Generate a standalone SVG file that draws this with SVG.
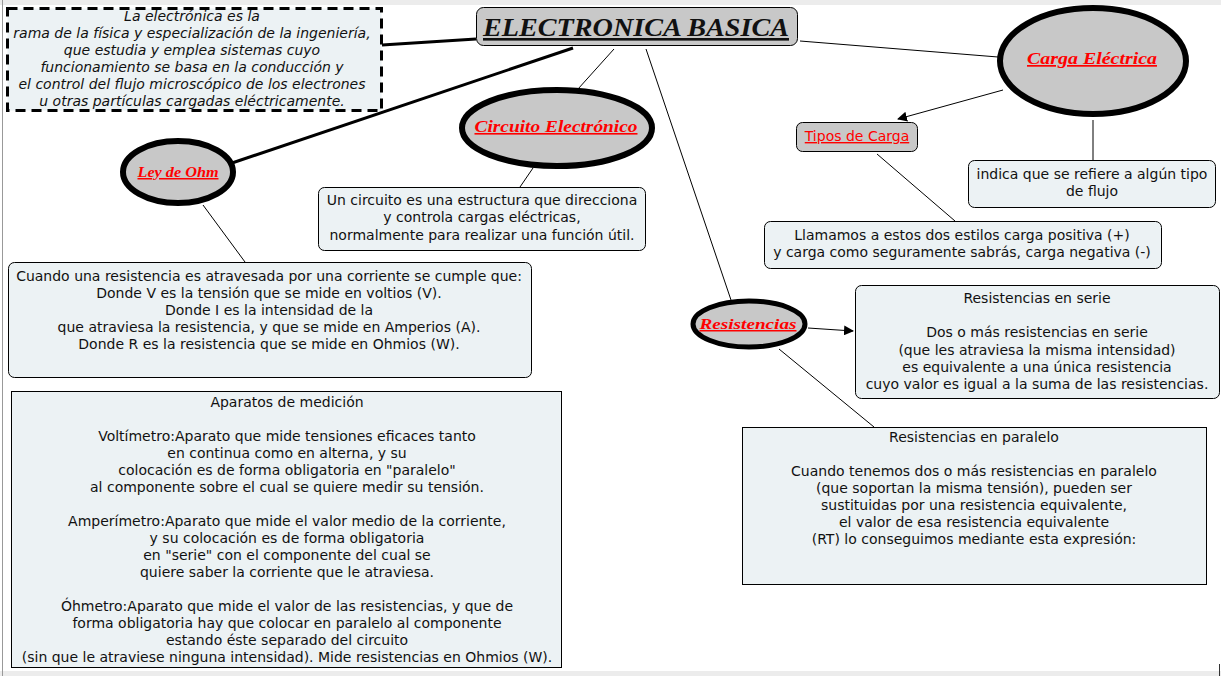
<svg xmlns="http://www.w3.org/2000/svg" width="1221" height="676" viewBox="0 0 1221 676">
<defs>
<style>
.t{font-family:"DejaVu Sans",Verdana,sans-serif;font-size:14px;fill:#111;text-anchor:middle}
.it{font-style:italic}
.box{fill:#ecf2f4;stroke:#000;stroke-width:1}
.ell{fill:#c8c8c8;stroke:#000}
.scr{font-family:"Liberation Serif",serif;font-style:italic;font-weight:bold;fill:#f00;text-anchor:middle;text-decoration:underline}
.ln{stroke:#000;stroke-width:1;fill:none}
.thk{stroke:#000;stroke-width:3;fill:none}
</style>
<marker id="ah" markerWidth="10" markerHeight="10" refX="9" refY="5" orient="auto" markerUnits="userSpaceOnUse">
<path d="M0,0 L10,5 L0,10 z" fill="#000"/>
</marker>
</defs>
<rect x="0" y="0" width="1221" height="676" fill="#fff"/>
<rect x="0" y="0" width="1221" height="5" fill="#ececec"/>
<rect x="0" y="671" width="1221" height="5" fill="#ececec"/>
<line x1="2.5" y1="0" x2="2.5" y2="676" stroke="#999" stroke-width="1"/>
<line x1="1219.5" y1="664" x2="1219.5" y2="676" stroke="#333" stroke-width="1"/>

<g id="connectors">
<line class="thk" x1="382" y1="45" x2="476" y2="39"/>
<line class="thk" x1="573" y1="48" x2="232" y2="163"/>
<line class="ln" x1="614" y1="49" x2="578" y2="89"/>
<line class="ln" x1="646" y1="49" x2="731" y2="300"/>
<line class="ln" x1="800" y1="41" x2="998" y2="57"/>
<line class="ln" x1="1003" y1="90" x2="898" y2="119" marker-end="url(#ah)"/>
<line class="ln" x1="1093" y1="120" x2="1093" y2="160"/>
<line class="ln" x1="877" y1="154" x2="955" y2="221"/>
<line class="ln" x1="203" y1="205" x2="245" y2="262"/>
<line class="ln" x1="533" y1="168" x2="520" y2="187"/>
<line class="ln" x1="808" y1="328" x2="853" y2="331" marker-end="url(#ah)"/>
<line class="ln" x1="779" y1="349" x2="874" y2="427"/>
</g>

<g id="intro">
<rect x="7.5" y="8.5" width="374" height="102" fill="#ecf2f4" stroke="#000" stroke-width="3" stroke-dasharray="10,6"/>
<text class="t it" x="192" y="21">La electrónica es la</text>
<text class="t it" x="192" y="38">rama de la física y especialización de la ingeniería,</text>
<text class="t it" x="192" y="55">que estudia y emplea sistemas cuyo</text>
<text class="t it" x="192" y="72">funcionamiento se basa en la conducción y</text>
<text class="t it" x="192" y="89">el control del flujo microscópico de los electrones</text>
<text class="t it" x="192" y="106">u otras partículas cargadas eléctricamente.</text>
</g>

<g id="title">
<rect x="476.5" y="7.5" width="321" height="38" rx="7" fill="#c8c8c8" stroke="#000"/>
<text x="636" y="36" font-family="Liberation Serif,serif" font-style="italic" font-weight="bold" font-size="26" text-anchor="middle" text-decoration="underline" textLength="306" lengthAdjust="spacingAndGlyphs" fill="#111">ELECTRONICA BASICA</text>
</g>

<g id="carga">
<ellipse class="ell" cx="1093" cy="61" rx="93" ry="53" stroke-width="6"/>
<text class="scr" x="1092" y="64" font-size="17" textLength="130" lengthAdjust="spacingAndGlyphs">Carga Eléctrica</text>
</g>

<g id="ley">
<ellipse class="ell" cx="178" cy="172" rx="55" ry="31" stroke-width="6"/>
<text class="scr" x="178" y="177" font-size="15" textLength="81" lengthAdjust="spacingAndGlyphs">Ley de Ohm</text>
</g>

<g id="circuito">
<ellipse class="ell" cx="557" cy="128" rx="95" ry="38" stroke-width="6"/>
<text class="scr" x="556" y="132" font-size="16" textLength="163" lengthAdjust="spacingAndGlyphs">Circuito Electrónico</text>
</g>

<g id="resistencias">
<ellipse class="ell" cx="749" cy="324" rx="56" ry="23" stroke-width="5"/>
<text class="scr" x="748" y="329" font-size="15" textLength="97" lengthAdjust="spacingAndGlyphs">Resistencias</text>
</g>

<g id="tipos">
<rect x="796.5" y="122.5" width="121" height="29" rx="6" fill="#c8c8c8" stroke="#000"/>
<text class="t" x="857" y="141" style="fill:#f00;text-decoration:underline">Tipos de Carga</text>
</g>

<g id="indica">
<rect class="box" x="968.5" y="160.5" width="247" height="47" rx="6"/>
<text class="t" x="1092" y="179">indica que se refiere a algún tipo</text>
<text class="t" x="1092" y="196">de flujo</text>
</g>

<g id="llamamos">
<rect class="box" x="764.5" y="221.5" width="397" height="47" rx="6"/>
<text class="t" x="962" y="240">Llamamos a estos dos estilos carga positiva (+)</text>
<text class="t" x="962" y="257">y carga como seguramente sabrás, carga negativa (-)</text>
</g>

<g id="uncircuito">
<rect class="box" x="318.5" y="187.5" width="327" height="63" rx="6"/>
<text class="t" x="482" y="205">Un circuito es una estructura que direcciona</text>
<text class="t" x="482" y="222">y controla cargas eléctricas,</text>
<text class="t" x="482" y="240">normalmente para realizar una función útil.</text>
</g>

<g id="cuando">
<rect class="box" x="8.5" y="262.5" width="523" height="115" rx="6"/>
<text class="t" x="269" y="281">Cuando una resistencia es atravesada por una corriente se cumple que:</text>
<text class="t" x="269" y="298">Donde V es la tensión que se mide en voltios (V).</text>
<text class="t" x="269" y="315">Donde I es la intensidad de la</text>
<text class="t" x="269" y="332">que atraviesa la resistencia, y que se mide en Amperios (A).</text>
<text class="t" x="269" y="349">Donde R es la resistencia que se mide en Ohmios (W).</text>
</g>

<g id="serie">
<rect class="box" x="855.5" y="285.5" width="364" height="113" rx="6"/>
<text class="t" x="1037" y="303">Resistencias en serie</text>
<text class="t" x="1037" y="337">Dos o más resistencias en serie</text>
<text class="t" x="1037" y="355">(que les atraviesa la misma intensidad)</text>
<text class="t" x="1037" y="372">es equivalente a una única resistencia</text>
<text class="t" x="1037" y="389">cuyo valor es igual a la suma de las resistencias.</text>
</g>

<g id="paralelo">
<rect class="box" x="742.5" y="427.5" width="464" height="157"/>
<text class="t" x="974" y="442">Resistencias en paralelo</text>
<text class="t" x="974" y="476">Cuando tenemos dos o más resistencias en paralelo</text>
<text class="t" x="974" y="493">(que soportan la misma tensión), pueden ser</text>
<text class="t" x="974" y="510">sustituidas por una resistencia equivalente,</text>
<text class="t" x="974" y="527">el valor de esa resistencia equivalente</text>
<text class="t" x="974" y="544">(RT) lo conseguimos mediante esta expresión:</text>
</g>

<g id="aparatos">
<rect class="box" x="11.5" y="391.5" width="550" height="276"/>
<text class="t" x="287" y="407">Aparatos de medición</text>
<text class="t" x="287" y="441">Voltímetro:Aparato que mide tensiones eficaces tanto</text>
<text class="t" x="287" y="458">en continua como en alterna, y su</text>
<text class="t" x="287" y="475">colocación es de forma obligatoria en "paralelo"</text>
<text class="t" x="287" y="492">al componente sobre el cual se quiere medir su tensión.</text>
<text class="t" x="287" y="526">Amperímetro:Aparato que mide el valor medio de la corriente,</text>
<text class="t" x="287" y="543">y su colocación es de forma obligatoria</text>
<text class="t" x="287" y="560">en "serie" con el componente del cual se</text>
<text class="t" x="287" y="577">quiere saber la corriente que le atraviesa.</text>
<text class="t" x="287" y="611">Óhmetro:Aparato que mide el valor de las resistencias, y que de</text>
<text class="t" x="287" y="628">forma obligatoria hay que colocar en paralelo al componente</text>
<text class="t" x="287" y="645">estando éste separado del circuito</text>
<text class="t" x="287" y="662">(sin que le atraviese ninguna intensidad). Mide resistencias en Ohmios (W).</text>
</g>
</svg>
